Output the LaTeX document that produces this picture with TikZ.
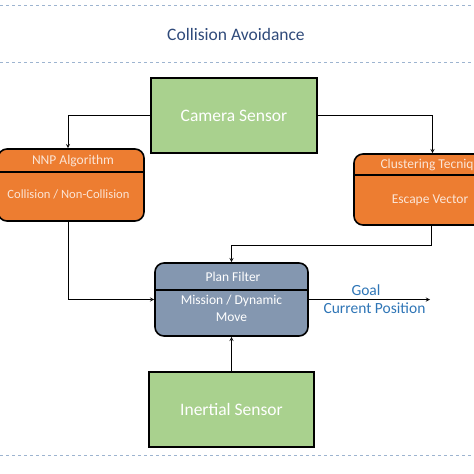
\documentclass[tikz,border=0pt]{standalone}
\usepackage{fontspec}
\setmainfont{Carlito}
\usetikzlibrary{shapes,arrows,positioning}

\definecolor{sensgreen}{HTML}{A9D18E}
\definecolor{algorange}{HTML}{ED7D31}
\definecolor{planblue}{HTML}{8497B0}
\definecolor{titleblue}{HTML}{2F4A7A}
\definecolor{outblue}{HTML}{2E75B6}
\definecolor{dashblue}{HTML}{9DB4D0}
\definecolor{palefont}{HTML}{FBE5D6}

\begin{document}
\begin{tikzpicture}[x=1pt,y=-1pt,>=stealth]
\tikzset{
  sensor/.style={draw=black, line width=1.6pt, fill=sensgreen, minimum width=166pt, minimum height=75pt, text=white, font=\fontsize{17.5}{20}\selectfont},
  procbox/.style={draw=black, line width=1.6pt, rounded corners=9pt, minimum height=72pt},
  boxtext/.style={font=\fontsize{13.5}{16.5}\selectfont},
  conn/.style={draw=black, line width=0.9pt, ->},
  sepline/.style={dashblue, dashed, line width=0.8pt}
}
\useasboundingbox (0,0) rectangle (474,474);
\clip (0,0) rectangle (474,474);

% dashed frame lines
\draw[sepline] (0,5) -- (474,5);
\draw[sepline] (0,62) -- (474,62);
\draw[sepline] (0,455) -- (474,455);
\node[text=titleblue, font=\fontsize{17.5}{20}\selectfont] (title) at (236,34) {Collision Avoidance};

% sensors
\node[sensor] (camera) at (234,115.5) {Camera Sensor};
\node[sensor, minimum width=165pt] (inertial) at (231.5,409.5) {Inertial Sensor};

% processing boxes
\node[procbox, fill=algorange, minimum width=146pt] (nnp) at (71,185) {};
\draw[line width=1.2pt] (nnp.west |- 0,172) -- (nnp.east |- 0,172);
\node[boxtext, text=palefont] (nnptitle) at (73,160.5) {NNP Algorithm};
\node[boxtext, text=palefont, font=\fontsize{12.6}{15}\selectfont] (nnpbody) at (68.5,194) {Collision / Non-Collision};

\node[procbox, fill=algorange, minimum width=152pt, minimum height=71pt] (clust) at (430,189.5) {};
\draw[line width=1.2pt] (clust.west |- 0,175) -- (clust.east |- 0,175);
\node[boxtext, text=palefont, anchor=west] (clusttitle) at (377,164.5) {Clustering Tecnique};
\node[boxtext, text=palefont] (clustbody) at (430,200) {Escape Vector};

\node[procbox, fill=planblue, minimum width=153pt, minimum height=73pt] (plan) at (231.5,299.5) {};
\draw[line width=1.2pt] (plan.west |- 0,290) -- (plan.east |- 0,290);
\node[boxtext, text=white] (plantitle) at (233,277) {Plan Filter};
\node[boxtext, text=white, align=center] (planbody) at (231.5,308.5) {Mission / Dynamic\\Move};

% connectors
\draw[conn] (camera.west) -| ([xshift=-3pt]nnp.north);
\draw[conn] (camera.east) -| ([xshift=2.5pt]clust.north);
\draw[conn] ([xshift=-3pt]nnp.south) |- (plan.west);
\draw[conn] ([xshift=1.5pt]clust.south) -- ++(0,20) -| (plan.north);
\draw[conn] (inertial.north) -- (plan.south);
\coordinate (goalend) at (430,299.5);
\draw[conn] (plan.east) -- (goalend);
\node[text=outblue, font=\fontsize{15.5}{18}\selectfont] (goal) at (366,290) {Goal};
\node[text=outblue, font=\fontsize{15.5}{18}\selectfont] (curpos) at (374.5,308.5) {Current Position};
\end{tikzpicture}
\end{document}
